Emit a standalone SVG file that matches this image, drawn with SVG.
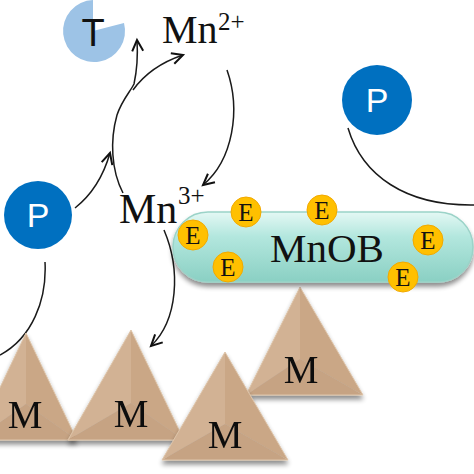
<svg xmlns="http://www.w3.org/2000/svg" width="474" height="474" viewBox="0 0 474 474">
<style>
.ln{fill:none;stroke:#1a1a1a;stroke-width:1.5}
.serif{font-family:"Liberation Serif","Times New Roman",serif;fill:#111}
.sans{font-family:"Liberation Sans",Arial,sans-serif}
.e circle{fill:#ffc000;stroke:#f2a900;stroke-width:1}
.e text{font-family:"Liberation Serif","Times New Roman",serif;font-size:25px;fill:#111;text-anchor:middle}
.tri text{font-family:"Liberation Serif","Times New Roman",serif;font-size:39px;fill:#111;text-anchor:middle}
.fl{fill:#d2b294}.fr{fill:#caa786}.fb{fill:#c6a383}
.edge{fill:none;stroke:#dec5aa;stroke-width:1}
</style>
<defs>
<marker id="ah" markerUnits="userSpaceOnUse" markerWidth="16" markerHeight="16" refX="12" refY="7" orient="auto">
<path d="M1,1.5 L12,7 L1,12.5" fill="none" stroke="#111" stroke-width="2"/>
</marker>
<linearGradient id="cap" x1="0" y1="0" x2="0" y2="1">
<stop offset="0" stop-color="#e4f8f4"/>
<stop offset="0.35" stop-color="#b3e7de"/>
<stop offset="1" stop-color="#8ad0c3"/>
</linearGradient>
<filter id="sh" x="-20%" y="-20%" width="140%" height="150%">
<feGaussianBlur in="SourceAlpha" stdDeviation="2.5"/>
<feOffset dx="0" dy="4" result="b"/>
<feComponentTransfer><feFuncA type="linear" slope="0.45"/></feComponentTransfer>
<feMerge><feMergeNode/><feMergeNode in="SourceGraphic"/></feMerge>
</filter>
</defs>

<g id="connectors">
<path class="ln" d="M75,208 C94,193 104,174 110,153" marker-end="url(#ah)"/>
<path class="ln" d="M123,193 C111,170 110,140 117,115 C122,100 130,92 134,84 C137,70 138,56 137,40" marker-end="url(#ah)"/>
<path class="ln" d="M133,90 C146,72 162,62 183,55" marker-end="url(#ah)"/>
<path class="ln" d="M227,70 C241,110 233,160 203,185" marker-end="url(#ah)"/>
<path class="ln" d="M164,230 C181,270 178,320 151,346" marker-end="url(#ah)"/>
<path class="ln" d="M45,262 C47,300 32,338 0,355"/>
<path class="ln" d="M348,128 C362,175 405,206 474,205"/>
</g>

<g id="T">
<path d="M93,31 L93,0 A31,31 0 1 0 124,23 Z" fill="#9dc3e6"/>
<text class="sans" x="93" y="46" font-size="38" text-anchor="middle" fill="#111">T</text>
</g>

<g id="Mn2">
<text class="serif" x="162" y="43" font-size="40">Mn</text>
<text class="serif" x="218" y="30" font-size="25">2+</text>
</g>

<g id="P-left">
<circle cx="38" cy="215" r="34" fill="#0070c0"/>
<text class="sans" x="38" y="227" font-size="34" text-anchor="middle" fill="#fff">P</text>
</g>

<g id="P-right">
<circle cx="377" cy="100" r="35" fill="#0070c0"/>
<text class="sans" x="377" y="112" font-size="34" text-anchor="middle" fill="#fff">P</text>
</g>

<g id="M1" class="tri" filter="url(#sh)">
<polygon class="fl" points="26,333 -25,440 26,404"/>
<polygon class="fr" points="26,333 77,440 26,404"/>
<polygon class="fb" points="-25,440 77,440 26,404"/>
<polygon class="edge" points="26,333 77,440 -25,440"/>
<text x="25" y="428">M</text>
</g>
<g id="M2" class="tri" filter="url(#sh)">
<polygon class="fl" points="131,330 68,440 131,403"/>
<polygon class="fr" points="131,330 184,440 131,403"/>
<polygon class="fb" points="68,440 184,440 131,403"/>
<polygon class="edge" points="131,330 184,440 68,440"/>
<text x="131" y="427">M</text>
</g>
<g id="M4" class="tri" filter="url(#sh)">
<polygon class="fl" points="300,287 246,395 300,359"/>
<polygon class="fr" points="300,287 363,395 300,359"/>
<polygon class="fb" points="246,395 363,395 300,359"/>
<polygon class="edge" points="300,287 363,395 246,395"/>
<text x="301" y="383">M</text>
</g>
<g id="M3" class="tri" filter="url(#sh)">
<polygon class="fl" points="225,352 162,460 225,424"/>
<polygon class="fr" points="225,352 288,460 225,424"/>
<polygon class="fb" points="162,460 288,460 225,424"/>
<polygon class="edge" points="225,352 288,460 162,460"/>
<text x="225" y="448">M</text>
</g>

<g id="MnOB">
<rect x="173" y="212" width="300" height="70" rx="35" fill="url(#cap)" stroke="#9bd3c8" stroke-width="1.5" filter="url(#sh)"/>
<text class="serif" x="327" y="262" font-size="41" text-anchor="middle">MnOB</text>
</g>

<g id="Mn3">
<text class="serif" x="119" y="223" font-size="42">Mn</text>
<text class="serif" x="178" y="204" font-size="25">3+</text>
</g>

<g id="E1" class="e"><circle cx="193" cy="235" r="15"/><text x="193" y="244">E</text></g>
<g id="E2" class="e"><circle cx="246" cy="212" r="15"/><text x="246" y="221">E</text></g>
<g id="E3" class="e"><circle cx="322" cy="210" r="15"/><text x="322" y="219">E</text></g>
<g id="E4" class="e"><circle cx="228" cy="267" r="15"/><text x="228" y="276">E</text></g>
<g id="E5" class="e"><circle cx="428" cy="240" r="15"/><text x="428" y="249">E</text></g>
<g id="E6" class="e"><circle cx="403" cy="277" r="15"/><text x="403" y="286">E</text></g>
</svg>
